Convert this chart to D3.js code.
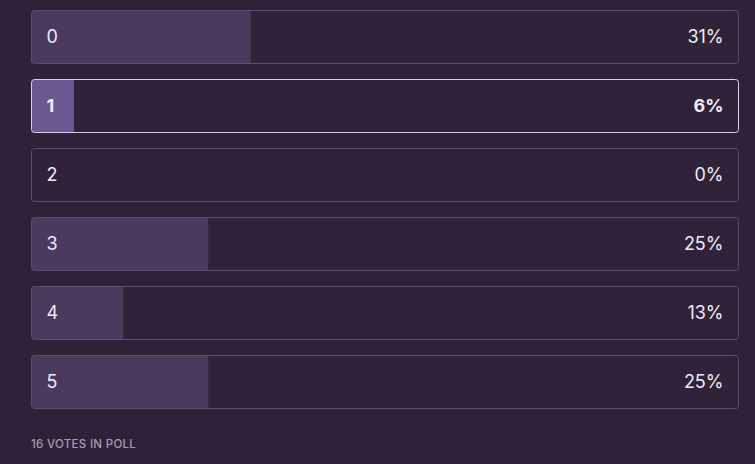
<!DOCTYPE html><html><head><script src="https://d3js.org/d3.v7.min.js"></script>
<style>body{margin:0;background:#2f2238;}</style></head><body><script>
const categories=["0","1","2","3","4","5"];
const percents=[31,6,0,25,13,25];
const selected=[false,true,false,false,false,false];
const footer="16 VOTES IN POLL";
const svg=d3.select("body").append("svg").attr("width",755).attr("height",464);
svg.append("rect").attr("width",755).attr("height",464).attr("fill","#2f2238");
const x=d3.scaleLinear().domain([0,100]).range([0,707]);
const y=d3.scaleBand().domain(categories).range([10,408]).paddingInner(16/69).paddingOuter(0);
const g=svg.selectAll("g.r").data(categories).join("g").attr("transform",d=>`translate(31.5,${y(d)+0.5})`);
g.append("rect").attr("width",707).attr("height",y.bandwidth()).attr("rx",3).attr("fill","#302238");
g.append("path").attr("d",(d,i)=>{const w=x(percents[i]);if(w<=0)return "";const h=y.bandwidth();return `M3,0H${w}V${h}H3A3,3 0 0 1 0,${h-3}V3A3,3 0 0 1 3,0Z`;})
 .attr("fill",(d,i)=>selected[i]?"#6a5890":"#4a3a5e");
g.append("rect").attr("width",707).attr("height",y.bandwidth()).attr("rx",3).attr("fill","none")
 .attr("stroke",(d,i)=>selected[i]?"#d8d0e0":"#5e4e6c").attr("stroke-width",1);
const font="Inter, sans-serif";
g.append("text").attr("x",15).attr("y",y.bandwidth()/2).attr("dy","0.36em").text(d=>d)
 .attr("fill","#f0ecf4").attr("font-family",font).attr("font-size",18).attr("font-weight",(d,i)=>selected[i]?700:400);
g.append("text").attr("x",692).attr("y",y.bandwidth()/2).attr("dy","0.36em").attr("text-anchor","end").text((d,i)=>percents[i]+"%")
 .attr("fill","#f0ecf4").attr("font-family",font).attr("font-size",18).attr("font-weight",(d,i)=>selected[i]?700:400);
svg.append("text").attr("x",31).attr("y",448).text(footer).attr("fill","#a89cb0").attr("font-family",font).attr("font-size",11.5).attr("font-weight",500).attr("letter-spacing",0.3);
</script></body></html>
